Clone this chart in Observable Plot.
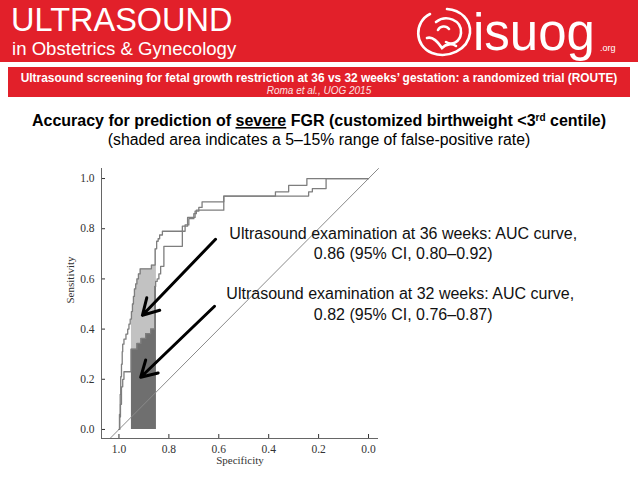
<!DOCTYPE html>
<html>
<head>
<meta charset="utf-8">
<script src="https://cdn.jsdelivr.net/npm/d3@7"></script>
<script src="https://cdn.jsdelivr.net/npm/@observablehq/plot@0.6"></script>
<style>
  html, body { margin: 0; padding: 0; background: #fff; }
  #page { position: relative; width: 638px; height: 478px; overflow: hidden; background: #fff; font-family: "Liberation Sans", Arial, sans-serif; }
  #head { position: absolute; left: 0; top: 0; }
  #chart { position: absolute; left: 0; top: 160px; }
</style>
</head>
<body>
<div id="page">
  <svg id="head" width="638" height="160" xmlns="http://www.w3.org/2000/svg">
    <rect x="0" y="0" width="638" height="62" fill="#e2202a"></rect>
    <text x="11" y="31" fill="#fff" font-family="Liberation Sans, Arial" font-size="32.5">ULTRASOUND</text>
    <text x="12" y="54.5" fill="#fff" font-family="Liberation Sans, Arial" font-size="18.6">in Obstetrics &amp; Gynecology</text>
    <g fill="none" stroke="#fff" stroke-width="2.6" stroke-linecap="round">
      <path d="M430,14 C414,22 414,46 432,53 C448,59 468,50 470,33 C471,20 461,10 447,9"></path>
      <path d="M436,22 C446,14 462,20 461,33 C460,42 452,46 446,42"></path>
      <path d="M427,38 C433,36 438,42 442,48 C446,44 452,43 456,46"></path>
      <path d="M438,30 C440,26 446,25 449,29"></path>
    </g>
    <text x="473" y="50" fill="#fff" font-family="Liberation Sans, Arial" font-size="51">isuog</text>
    <text x="600" y="51" fill="#fff" font-family="Liberation Sans, Arial" font-size="9">.org</text>
    <rect x="8" y="67" width="622" height="30" fill="#e2202a"></rect>
    <text x="319" y="82" fill="#fff" text-anchor="middle" font-family="Liberation Sans, Arial" font-weight="bold" font-size="11.9">Ultrasound screening for fetal growth restriction at 36 vs 32 weeks’ gestation: a randomized trial (ROUTE)</text>
    <text x="319" y="94" fill="#fbe4e4" text-anchor="middle" font-family="Liberation Sans, Arial" font-style="italic" font-size="10">Roma et al., UOG 2015</text>
    <text x="319" y="126" fill="#000" text-anchor="middle" font-family="Liberation Sans, Arial" font-weight="bold" font-size="16">Accuracy for prediction of <tspan text-decoration="underline">severe</tspan> FGR (customized birthweight &lt;3<tspan font-size="10" dy="-5">rd</tspan><tspan dy="5"> centile)</tspan></text>
    <text x="319" y="145" fill="#000" text-anchor="middle" font-family="Liberation Sans, Arial" font-size="15.8">(shaded area indicates a 5–15% range of false-positive rate)</text>
  </svg>
  <div id="chart"></div>
</div>
<script>
// ---- data ----
const specTicks = [1.0, 0.8, 0.6, 0.4, 0.2, 0.0];
const sensTicks = [0.0, 0.2, 0.4, 0.6, 0.8, 1.0];
const xDomain = [1.07, -0.04];
const yDomain = [-0.036, 1.04];
const fprBand = [0.95, 0.85]; // specificity range for 5–15% false-positive rate

// ROC at 36 weeks: [specificity, sensitivity] (rise points)
const roc36Spec = [1.000,0.998,0.995,0.993,0.990,0.987,0.985,0.980,0.972,0.965,0.960,0.955,0.950,0.946,0.942,0.938,0.933,0.928,0.922,0.915,0.870,0.855,0.849,0.843,0.837,0.826,0.746,0.725,0.695,0.680,0.667,0.580,0.373,0.320,0.247,0.000];
const roc36Sens = [0.000,0.060,0.140,0.210,0.260,0.310,0.340,0.360,0.380,0.400,0.420,0.440,0.470,0.500,0.530,0.560,0.580,0.600,0.620,0.640,0.655,0.720,0.750,0.760,0.775,0.790,0.810,0.845,0.870,0.885,0.907,0.930,0.947,0.973,1.000,1.000];

// ROC at 32 weeks
const roc32Spec = [1.000,0.997,0.994,0.990,0.985,0.980,0.952,0.928,0.912,0.893,0.873,0.857,0.853,0.847,0.840,0.833,0.820,0.746,0.735,0.720,0.700,0.690,0.580,0.240,0.225,0.170,0.000];
const roc32Sens = [0.000,0.050,0.100,0.170,0.200,0.230,0.320,0.343,0.363,0.382,0.400,0.570,0.590,0.600,0.620,0.650,0.730,0.790,0.815,0.840,0.860,0.874,0.930,0.947,0.960,1.000,1.000];

const annoText = [
  "Ultrasound examination at 36 weeks: AUC curve,",
  "0.86 (95% CI, 0.80–0.92)",
  "Ultrasound examination at 32 weeks: AUC curve,",
  "0.82 (95% CI, 0.76–0.87)"
];
const annoSpec = [-0.139, -0.139, -0.127, -0.139];
const annoSens = [0.778, 0.698, 0.542, 0.456];

const arrowFromSpec = [0.613, 0.617];
const arrowFromSens = [0.758, 0.491];
const arrowToSpec = [0.906, 0.913];
const arrowToSens = [0.455, 0.208];

// ---- build tables ----
const roc36 = roc36Spec.map((s, i) => ({spec: s, sens: roc36Sens[i]}));
const roc32 = roc32Spec.map((s, i) => ({spec: s, sens: roc32Sens[i]}));

function band(pts, hi, lo) {
  const start = pts.filter(p => p.spec >= hi).at(-1);
  const inner = pts.filter(p => p.spec < hi && p.spec > lo);
  const end = pts.filter(p => p.spec > lo).at(-1);
  return [{spec: hi, sens: start.sens}, ...inner, {spec: lo, sens: end.sens}];
}
const band36 = band(roc36, fprBand[0], fprBand[1]);
const band32 = band(roc32, fprBand[0], fprBand[1]);

const diag = [
  {spec: 1 - yDomain[0], sens: yDomain[0]},
  {spec: xDomain[1], sens: 1 - xDomain[1]}
];
const annos = annoText.map((t, i) => ({t, spec: annoSpec[i], sens: annoSens[i]}));
const arrows = arrowFromSpec.map((s, i) => ({x1: s, y1: arrowFromSens[i], x2: arrowToSpec[i], y2: arrowToSens[i]}));

const chart = Plot.plot({
  width: 638,
  height: 318,
  marginLeft: 101,
  marginRight: 260,
  marginTop: 8,
  marginBottom: 40,
  style: {fontFamily: "'Liberation Serif', serif", fontSize: "11.5px", color: "#333", background: "transparent", overflow: "visible"},
  x: {domain: xDomain, ticks: specTicks, tickFormat: d3.format(".1f"), tickSize: -4, tickPadding: 10, label: null},
  y: {domain: yDomain, ticks: sensTicks, tickFormat: d3.format(".1f"), tickSize: -4, tickPadding: 11, label: null},
  marks: [
    Plot.areaY(band36, {x: "spec", y: "sens", curve: "step-after", fill: "#c2c2c2"}),
    Plot.areaY(band32, {x: "spec", y: "sens", curve: "step-after", fill: "#6f6f6f"}),
    Plot.line(diag, {x: "spec", y: "sens", stroke: "#8a8a8a", strokeWidth: 1}),
    Plot.line(roc36, {x: "spec", y: "sens", curve: "step-after", stroke: "#7e7e7e", strokeWidth: 1.3}),
    Plot.line(roc32, {x: "spec", y: "sens", curve: "step-after", stroke: "#7e7e7e", strokeWidth: 1.3}),
    Plot.ruleX([xDomain[0]], {stroke: "#666"}),
    Plot.ruleY([yDomain[0]], {stroke: "#666"}),
    Plot.arrow(arrows, {x1: "x1", y1: "y1", x2: "x2", y2: "y2", stroke: "#000", strokeWidth: 3, headLength: 9}),
    Plot.text(annos, {x: "spec", y: "sens", text: "t", fontFamily: "'Liberation Sans', Arial, sans-serif", fontSize: 16, fill: "#111", textAnchor: "middle"}),
    Plot.text(["Sensitivity"], {text: d => d, frameAnchor: "left", dx: -31, rotate: -90, fontSize: 11, fill: "#333"}),
    Plot.text(["Specificity"], {text: d => d, frameAnchor: "bottom", dy: 25, fontSize: 11, fill: "#333"})
  ]
});
document.getElementById("chart").appendChild(chart);
</script>
</body>
</html>
